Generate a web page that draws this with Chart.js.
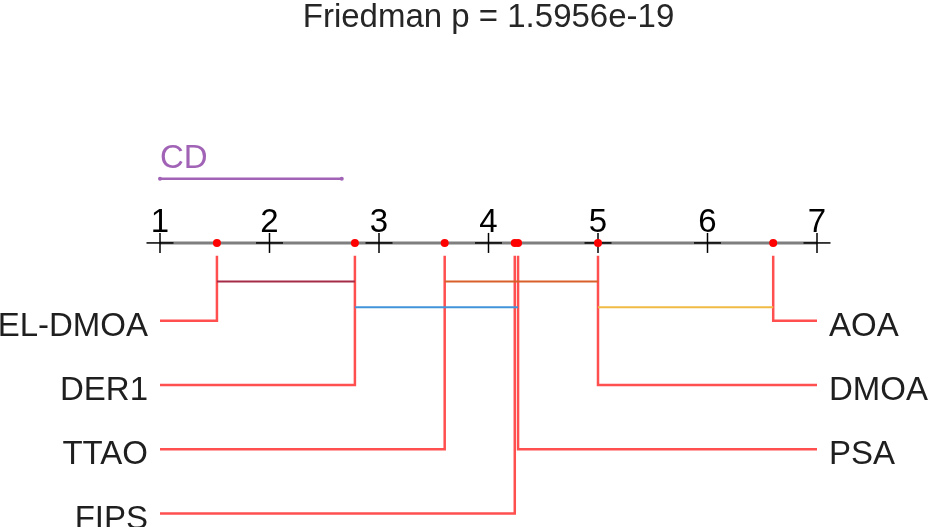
<!DOCTYPE html>
<html>
<head>
<meta charset="utf-8">
<script src="https://cdn.jsdelivr.net/npm/chart.js@4.4.1/dist/chart.umd.min.js"></script>
<style>
  html, body { margin: 0; padding: 0; background: #fff; }
  #wrap { width: 929px; height: 527px; }
</style>
</head>
<body>
<div id="wrap"><canvas id="cd"></canvas></div>
<script>
const title = 'Friedman p = 1.5956e-19'

// mean ranks
const leftNames = ['EL-DMOA', 'DER1', 'TTAO', 'FIPS']
const leftRanks = [1.52, 2.78, 3.6, 4.24]
const rightNames = ['AOA', 'DMOA', 'PSA']
const rightRanks = [6.6, 5.0, 4.27]
const tickLabels = [1, 2, 3, 4, 5, 6, 7]
const cdValue = 1.66

// groups that are not significantly different (from rank, to rank)
const cliqueFrom = [1.52, 2.78, 3.6, 5.0]
const cliqueTo = [2.78, 4.27, 5.0, 6.6]
const cliqueColors = ['#a62b47', '#4194d8', '#d95f2b', '#efbb45']

// layout in y units (axis at 0, one unit = one label row)
const ROW0 = 1.21
const STEM_TOP = 0.2
const cliqueLevels = [0.6, 1.0]
const CD_Y = -1.0
const FONT = '33px "Liberation Sans", Arial, sans-serif'

const lo = tickLabels[0]
const hi = tickLabels[tickLabels.length - 1]

const lineSet = (data, color, width, order) => ({
  data: data,
  showLine: true,
  borderColor: color,
  borderWidth: width,
  pointRadius: 0,
  tension: 0,
  clip: false,
  order: order
})

const datasets = []

// axis
datasets.push(lineSet([{ x: lo, y: 0 }, { x: hi, y: 0 }], '#7f7f7f', 3, 9))

// tick marks ("+" shape)
datasets.push({
  data: tickLabels.map(t => ({ x: t, y: 0 })),
  showLine: false,
  pointStyle: 'line',
  pointRadius: 13.5,
  pointBorderColor: '#000',
  pointBorderWidth: 1.5,
  clip: false,
  order: 8
})
datasets.push({
  data: tickLabels.map(t => ({ x: t, y: 0 })),
  showLine: false,
  pointStyle: 'line',
  pointRotation: 90,
  pointRadius: 10,
  pointBorderColor: '#000',
  pointBorderWidth: 1.5,
  clip: false,
  order: 8
})

// connectors from labels to the axis
leftRanks.forEach((r, i) => {
  const row = ROW0 + i
  datasets.push(lineSet([{ x: lo, y: row }, { x: r, y: row }, { x: r, y: STEM_TOP }], '#ff4f4f', 2.5, 6))
})
rightRanks.forEach((r, i) => {
  const row = ROW0 + i
  datasets.push(lineSet([{ x: hi, y: row }, { x: r, y: row }, { x: r, y: STEM_TOP }], '#ff4f4f', 2.5, 6))
})

// cliques
cliqueFrom.forEach((f, i) => {
  const lvl = cliqueLevels[i % 2]
  datasets.push(lineSet([{ x: f, y: lvl }, { x: cliqueTo[i], y: lvl }], cliqueColors[i], 2, 5))
})

// CD bar
datasets.push({
  data: [{ x: lo, y: CD_Y }, { x: lo + cdValue, y: CD_Y }],
  showLine: true,
  borderColor: '#a163b6',
  borderWidth: 2.5,
  pointRadius: 2,
  pointBackgroundColor: '#a163b6',
  pointBorderWidth: 0,
  clip: false,
  order: 5
})

// rank dots
datasets.push({
  data: leftRanks.concat(rightRanks).map(r => ({ x: r, y: 0 })),
  showLine: false,
  pointRadius: 4,
  pointBackgroundColor: '#ff0000',
  pointBorderWidth: 0,
  clip: false,
  order: 1
})

const textPlugin = {
  id: 'cdText',
  afterDatasetsDraw(chart) {
    const c = chart.ctx
    const xs = chart.scales.x
    const ys = chart.scales.y
    c.save()
    c.font = FONT
    c.textBaseline = 'alphabetic'

    c.fillStyle = '#262626'
    c.textAlign = 'center'
    c.fillText(title, xs.getPixelForValue((lo + hi) / 2), ys.getPixelForValue(-3.36))

    c.fillStyle = '#000'
    tickLabels.forEach(t => {
      c.fillText(String(t), xs.getPixelForValue(t), ys.getPixelForValue(-0.17))
    })

    c.fillStyle = '#a163b6'
    c.textAlign = 'left'
    c.fillText('CD', xs.getPixelForValue(lo), ys.getPixelForValue(CD_Y - 0.17))

    c.fillStyle = '#1f1f1f'
    c.textAlign = 'right'
    leftNames.forEach((n, i) => {
      c.fillText(n, xs.getPixelForValue(lo) - 12, ys.getPixelForValue(ROW0 + i + 0.235))
    })
    c.textAlign = 'left'
    rightNames.forEach((n, i) => {
      c.fillText(n, xs.getPixelForValue(hi) + 12, ys.getPixelForValue(ROW0 + i + 0.235))
    })
    c.restore()
  }
}

new Chart(document.getElementById('cd'), {
  type: 'scatter',
  data: { datasets: datasets },
  options: {
    responsive: true,
    maintainAspectRatio: false,
    animation: false,
    events: [],
    layout: { autoPadding: false, padding: { left: 160, right: 112, top: 0, bottom: 0 } },
    plugins: {
      legend: { display: false },
      tooltip: { enabled: false }
    },
    scales: {
      x: { type: 'linear', min: lo, max: hi, display: false },
      y: { type: 'linear', min: -3.78, max: 4.42, reverse: true, display: false }
    }
  },
  plugins: [textPlugin]
})
</script>
</body>
</html>
